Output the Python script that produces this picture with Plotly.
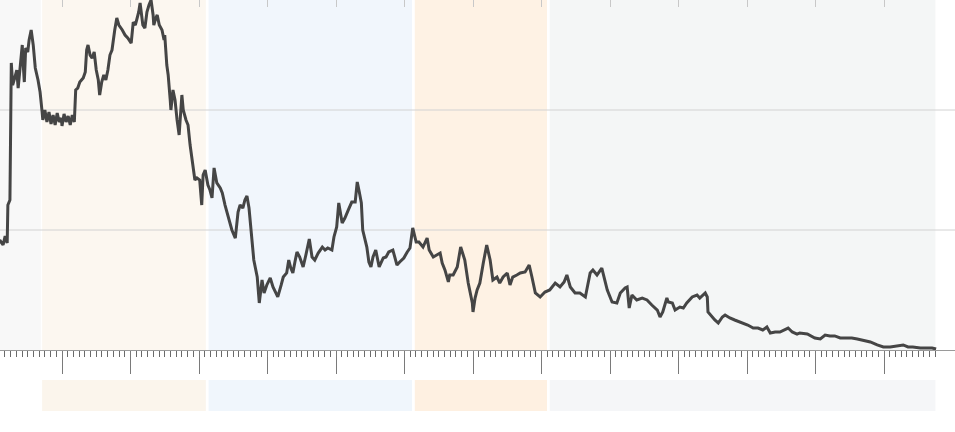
import plotly.graph_objects as go

# ---- data (decimal years, index values) ----
years = [
    2009.09, 2009.14, 2009.17, 2009.20, 2009.21, 2009.24, 2009.26, 2009.27, 2009.28, 2009.31,
    2009.34, 2009.36, 2009.39, 2009.42, 2009.43, 2009.45, 2009.47, 2009.50, 2009.52, 2009.55,
    2009.58, 2009.61, 2009.65, 2009.68, 2009.71, 2009.72, 2009.75, 2009.78, 2009.81, 2009.84,
    2009.87, 2009.90, 2009.93, 2009.96, 2009.99, 2010.00, 2010.03, 2010.06, 2010.09, 2010.12,
    2010.15, 2010.18, 2010.20, 2010.23, 2010.26, 2010.31, 2010.34, 2010.36, 2010.38, 2010.41,
    2010.44, 2010.47, 2010.50, 2010.53, 2010.55, 2010.58, 2010.61, 2010.64, 2010.67, 2010.70,
    2010.73, 2010.74, 2010.77, 2010.80, 2010.83, 2010.88, 2010.92, 2010.96, 2011.01, 2011.04,
    2011.07, 2011.09, 2011.12, 2011.14, 2011.17, 2011.18, 2011.21, 2011.24, 2011.27, 2011.30,
    2011.33, 2011.34, 2011.37, 2011.39, 2011.42, 2011.46, 2011.49, 2011.50, 2011.53, 2011.55,
    2011.58, 2011.59, 2011.62, 2011.65, 2011.68, 2011.71, 2011.75, 2011.77, 2011.81, 2011.84,
    2011.87, 2011.90, 2011.91, 2011.94, 2011.97, 2012.01, 2012.04, 2012.06, 2012.09, 2012.13,
    2012.16, 2012.19, 2012.22, 2012.26, 2012.31, 2012.34, 2012.38, 2012.41, 2012.45, 2012.48,
    2012.53, 2012.57, 2012.60, 2012.64, 2012.67, 2012.70, 2012.73, 2012.77, 2012.80, 2012.85,
    2012.88, 2012.92, 2012.95, 2012.99, 2013.04, 2013.08, 2013.12, 2013.15, 2013.20, 2013.23,
    2013.28, 2013.31, 2013.34, 2013.37, 2013.40, 2013.43, 2013.47, 2013.52, 2013.56, 2013.61,
    2013.65, 2013.69, 2013.74, 2013.80, 2013.84, 2013.88, 2013.94, 2013.97, 2014.01, 2014.03,
    2014.04, 2014.09, 2014.13, 2014.18, 2014.23, 2014.28, 2014.31, 2014.34, 2014.37, 2014.39,
    2014.42, 2014.45, 2014.48, 2014.51, 2014.54, 2014.58, 2014.63, 2014.69, 2014.73, 2014.77,
    2014.83, 2014.89, 2014.93, 2014.99, 2015.04, 2015.08, 2015.12, 2015.17, 2015.21, 2015.27,
    2015.33, 2015.36, 2015.42, 2015.47, 2015.52, 2015.55, 2015.59, 2015.64, 2015.66, 2015.71,
    2015.77, 2015.82, 2015.88, 2015.93, 2015.99, 2016.00, 2016.03, 2016.06, 2016.10, 2016.15,
    2016.20, 2016.25, 2016.29, 2016.35, 2016.39, 2016.44, 2016.50, 2016.54, 2016.58, 2016.64,
    2016.69, 2016.76, 2016.82, 2016.86, 2016.91, 2016.98, 2017.05, 2017.12, 2017.20, 2017.27,
    2017.33, 2017.37, 2017.42, 2017.49, 2017.56, 2017.64, 2017.71, 2017.75, 2017.81, 2017.88,
    2017.96, 2018.03, 2018.10, 2018.15, 2018.22, 2018.25, 2018.28, 2018.32, 2018.39, 2018.47,
    2018.54, 2018.61, 2018.69, 2018.73, 2018.77, 2018.83, 2018.85, 2018.91, 2018.95, 2019.02,
    2019.07, 2019.12, 2019.20, 2019.27, 2019.31, 2019.39, 2019.42, 2019.43, 2019.49, 2019.53,
    2019.58, 2019.64, 2019.68, 2019.75, 2019.82, 2019.90, 2019.94, 2020.01, 2020.09, 2020.16,
    2020.23, 2020.29, 2020.34, 2020.41, 2020.48, 2020.55, 2020.60, 2020.66, 2020.73, 2020.77,
    2020.88, 2020.99, 2021.07, 2021.14, 2021.21, 2021.28, 2021.36, 2021.46, 2021.53, 2021.61,
    2021.69, 2021.80, 2021.90, 2021.99, 2022.09, 2022.19, 2022.28, 2022.35, 2022.42, 2022.53,
    2022.63, 2022.70, 2022.76,
]
values = [
    91.7, 87.5, 95.0, 89.2, 120.8, 125.0, 239.2, 225.0, 220.8, 226.7,
    233.3, 218.3, 240.0, 254.2, 241.7, 223.3, 251.7, 248.3, 258.3, 266.7,
    254.2, 235.0, 225.0, 215.0, 198.3, 191.7, 200.0, 190.0, 198.3, 188.3,
    195.8, 187.5, 197.5, 190.0, 193.3, 186.7, 196.7, 190.0, 195.0, 187.5,
    195.8, 190.0, 216.7, 218.3, 223.3, 226.7, 231.7, 250.0, 254.2, 245.8,
    243.3, 248.3, 233.3, 225.0, 212.5, 223.3, 229.2, 225.0, 233.3, 245.8,
    250.0, 255.8, 266.7, 276.7, 270.8, 266.7, 262.5, 260.0, 255.8, 273.3,
    270.8, 275.0, 281.7, 289.2, 273.3, 270.8, 268.3, 281.7, 287.5, 291.7,
    279.2, 270.8, 276.7, 279.2, 270.8, 266.7, 258.3, 262.5, 237.5, 229.2,
    208.3, 200.0, 216.7, 208.3, 191.7, 179.2, 212.5, 200.0, 191.7, 187.5,
    170.8, 158.3, 150.0, 141.7, 143.3, 141.7, 120.8, 145.8, 150.0, 137.5,
    133.3, 126.7, 151.7, 139.2, 135.0, 130.8, 120.8, 114.2, 106.7, 100.0,
    93.3, 115.0, 120.8, 118.3, 125.0, 128.3, 118.3, 91.7, 75.0, 60.8,
    39.2, 58.3, 47.5, 54.2, 60.0, 52.5, 48.3, 44.2, 54.2, 60.8,
    64.2, 75.0, 68.3, 64.2, 73.3, 81.7, 77.5, 69.2, 79.2, 92.5,
    77.5, 75.0, 80.8, 85.8, 83.3, 85.0, 83.3, 94.2, 102.5, 120.8,
    122.5, 105.8, 110.0, 116.7, 123.3, 123.3, 140.0, 131.7, 122.5, 100.0,
    93.3, 85.8, 73.3, 69.2, 77.5, 83.3, 69.2, 76.7, 77.5, 81.7,
    83.3, 70.8, 73.3, 76.7, 81.7, 85.0, 101.7, 90.0, 90.0, 85.8,
    93.3, 83.3, 77.5, 79.2, 80.8, 72.5, 66.7, 56.7, 62.5, 62.5,
    69.2, 85.8, 75.0, 55.8, 39.2, 31.7, 43.3, 50.0, 55.8, 72.5,
    87.5, 75.0, 58.3, 60.8, 55.8, 60.8, 64.2, 54.2, 60.8, 62.5,
    64.2, 65.0, 70.8, 60.8, 47.5, 44.2, 48.3, 50.0, 55.8, 52.5,
    56.7, 62.5, 52.5, 47.5, 47.5, 44.2, 64.2, 66.7, 62.5, 68.3,
    50.0, 40.0, 39.2, 47.5, 51.7, 52.5, 35.0, 45.8, 41.7, 43.3,
    41.7, 37.5, 33.3, 27.5, 31.7, 43.3, 40.0, 39.2, 33.3, 35.8,
    35.0, 39.2, 44.2, 45.8, 43.3, 47.5, 44.2, 31.7, 27.5, 25.0,
    22.5, 27.5, 29.2, 26.7, 25.0, 23.3, 22.5, 20.8, 18.3, 18.3,
    16.7, 19.2, 14.2, 15.0, 15.0, 16.7, 18.3, 15.0, 13.3, 14.2,
    13.3, 10.0, 9.2, 12.5, 11.7, 11.7, 10.0, 10.0, 10.0, 9.2,
    8.3, 6.7, 4.2, 2.5, 2.5, 3.3, 4.2, 2.5, 2.5, 1.7,
    1.7, 1.7, 0.8,
]
assert len(years) == len(values)

# shaded periods (start, end) in decimal years
period_starts = [2009.00, 2009.71, 2012.14, 2015.15, 2017.12]
period_ends = [2009.69, 2012.10, 2015.11, 2017.08, 2022.75]
period_colors = ["#f8f8f8", "#fcf7f0", "#f1f6fc", "#fef2e4", "#f4f6f6"]
strip_colors = [None, "#fbf5ec", "#f0f6fc", "#fef0e1", "#f5f6f8"]

year_ticks = list(range(2010, 2023))
gridlines = [100, 200]

x_range = [2009.095, 2023.036]
y_range = [0, 291.67]

fig = go.Figure()

fig.add_trace(go.Scatter(
    x=years, y=values, mode="lines",
    line=dict(color="#454545", width=3),
    hoverinfo="skip", showlegend=False, cliponaxis=True,
))

shapes = []
for s, e, c, sc in zip(period_starts, period_ends, period_colors, strip_colors):
    shapes.append(dict(type="rect", xref="x", yref="paper", x0=max(s, x_range[0]), x1=e,
                       y0=0, y1=1, fillcolor=c, line=dict(width=0), layer="below"))
    if sc:
        shapes.append(dict(type="rect", xref="x", yref="paper", x0=s, x1=e,
                           y0=-0.1743, y1=-0.0857, fillcolor=sc, line=dict(width=0),
                           layer="below"))
for g in gridlines:
    shapes.append(dict(type="line", xref="paper", yref="y", x0=0, x1=1, y0=g, y1=g,
                       line=dict(color="#d2d2d2", width=1), layer="below"))

# monthly minor ticks up to the end of data
minor_vals = []
m = 2009 * 12 + 2
while m / 12 <= years[-1] + 0.02:
    if m % 12 != 0:
        minor_vals.append(m / 12)
    m += 1

fig.update_layout(
    width=955, height=432,
    margin=dict(l=0, r=0, t=0, b=82),
    paper_bgcolor="white", plot_bgcolor="white",
    shapes=shapes,
    hovermode=False,
    xaxis=dict(
        range=x_range, showgrid=False, zeroline=False,
        showline=True, linecolor="#9a9a9a", linewidth=1,
        tickmode="array", tickvals=year_ticks, showticklabels=False,
        ticks="outside", ticklen=23, tickcolor="#7a7a7a", tickwidth=1,
        minor=dict(tickmode="array", tickvals=minor_vals, ticks="outside",
                   ticklen=6, tickcolor="#6a6a6a", tickwidth=1, showgrid=False),
    ),
    xaxis2=dict(
        range=x_range, overlaying="x", side="top", showgrid=False, zeroline=False,
        showline=False, tickmode="array", tickvals=year_ticks, showticklabels=False,
        ticks="inside", ticklen=7, tickcolor="#c8c8c8", tickwidth=1,
    ),
    yaxis=dict(range=y_range, showgrid=False, zeroline=False, showticklabels=False,
               showline=False, fixedrange=True),
)
# invisible trace to activate top axis
fig.add_trace(go.Scatter(x=[years[0]], y=[values[0]], xaxis="x2", mode="markers",
                         marker=dict(opacity=0), hoverinfo="skip", showlegend=False))

fig.write_html("out.html", config={"displayModeBar": False},
               post_script="document.body.style.margin='0';")
